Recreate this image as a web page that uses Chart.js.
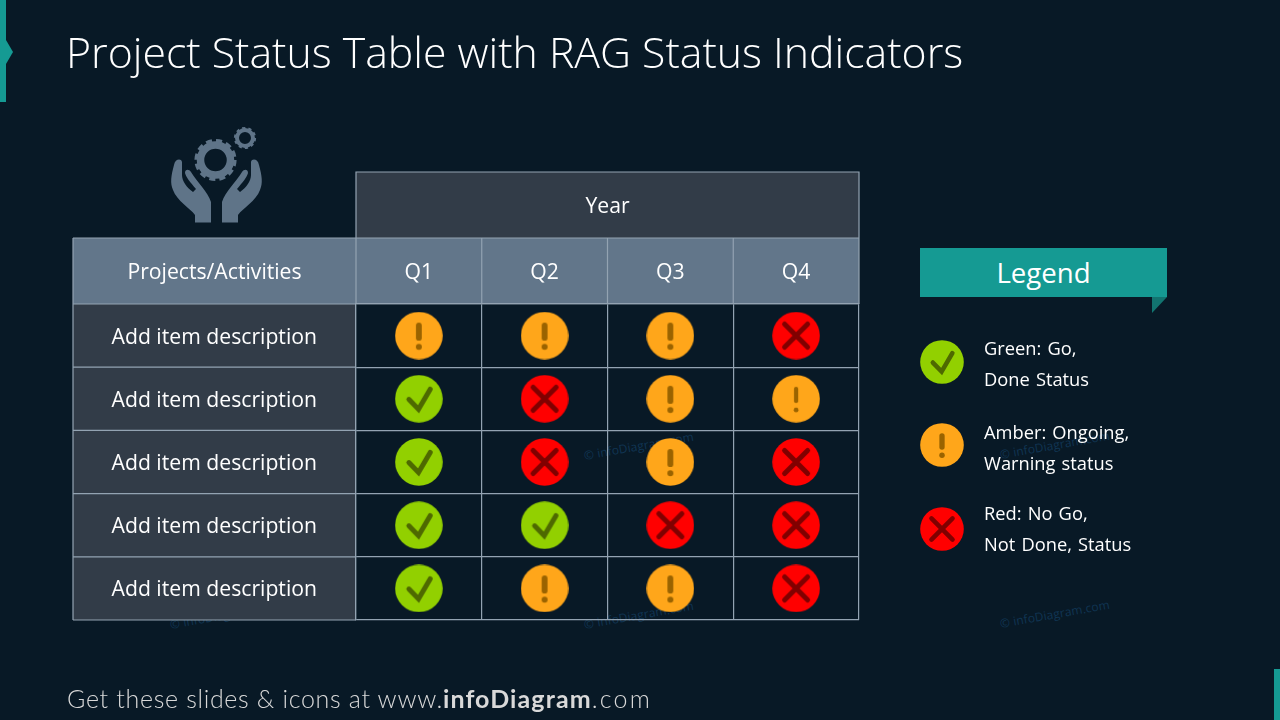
<!DOCTYPE html>
<html>
<head>
<meta charset="utf-8">
<title>Project Status Table</title>
<script src="https://cdn.jsdelivr.net/npm/chart.js@4"></script>
<style>
    html, body { margin: 0; padding: 0; background: #081926; }
    #slide { position: relative; width: 1280px; height: 720px; overflow: hidden; background: #081926; font-family: 'Open Sans', sans-serif; color: #fff; }
    #slide > * { position: absolute; }
    #myChart { left: 0; top: 0; z-index: 1; }
    .txt { z-index: 2; white-space: nowrap; }
    .wm { z-index: 0; font-size: 12px; letter-spacing: 0.1px; color: #103553; transform: rotate(-10deg); transform-origin: left center; white-space: nowrap; }
    .lg { font-size: 18.3px; word-spacing: 1.4px; line-height: 30.5px; left: 984px; }
</style>
</head>
<body>
<div id="slide">
    <div style="left:0;top:0;width:6px;height:102px;background:#159a93"></div>
    <svg style="left:0;top:0" width="20" height="102"><path d="M6 40 L13 52 L6 64 Z" fill="#159a93"/></svg>
    <div style="left:1274px;top:669px;width:6px;height:51px;background:#159a93"></div>

    <div class="txt" id="title" style="left:66px;top:24px;font-size:42.8px;font-weight:300;line-height:56px">Project Status Table with RAG Status Indicators</div>

    <svg style="left:0;top:0;z-index:2" width="300" height="240">
        <g fill="none" stroke="#5f7488">
            <circle cx="215.5" cy="160" r="15" stroke-width="7.5"/>
            <circle cx="215.5" cy="160" r="19.3" stroke-width="3.6" stroke-dasharray="6 4.1"/>
            <circle cx="245" cy="138" r="8" stroke-width="4"/>
            <circle cx="245" cy="138" r="10" stroke-width="2.2" stroke-dasharray="3.2 3.08"/>
        </g>
        <g fill="#5f7488">
            <path id="hand" d="M195 222.5 L195 215 C190 208 177 201 173 190 C170 183 171 176 174 165 C175 159 181 158 182 162 L182 175 C182 181 187 188 193 192 L196 189 C190 182 186 177 185 173 C185 169 189 169 191 172 C197 182 208 192 211 202 L211 222.5 Z"/>
            <use href="#hand" transform="translate(433 0) scale(-1 1)"/>
        </g>
    </svg>

    <canvas id="myChart" width="1280" height="720"></canvas>

    <div style="left:920px;top:248px;width:247px;height:49px;background:#159a93;z-index:2"></div>
    <svg style="left:1152px;top:297px;z-index:2" width="15" height="16"><path d="M0 0 L15 0 L0 16 Z" fill="#127470"/></svg>
    <div class="txt" style="left:920px;top:248px;width:247px;height:49px;line-height:48px;text-align:center;font-size:27.6px">Legend</div>

    <div class="txt lg" style="top:333px">Green: Go,<br>Done Status</div>
    <div class="txt lg" style="top:417px">Amber: Ongoing,<br>Warning status</div>
    <div class="txt lg" style="top:498px">Red: No Go,<br>Not Done, Status</div>

    <div class="wm" style="left:584px;top:447px">© infoDiagram.com</div>
    <div class="wm" style="left:584px;top:616px">© infoDiagram.com</div>
    <div class="wm" style="left:1000px;top:446px">© infoDiagram.com</div>
    <div class="wm" style="left:1000px;top:615px">© infoDiagram.com</div>
    <div class="wm" style="left:170px;top:616px">© infoDiagram.com</div>

    <div class="txt" id="foot" style="left:67px;top:682px;font-family:Lato,sans-serif;font-size:25px;font-weight:300;letter-spacing:0.68px;line-height:32px;color:#d9d9d9">Get these slides &amp; icons at www.<b style="font-weight:700;letter-spacing:1.1px">infoDiagram</b><span style="letter-spacing:2.2px">.com</span></div>
</div>
<script>
const quarters = ['Q1', 'Q2', 'Q3', 'Q4']
const rowNames = ['Add item description', 'Add item description', 'Add item description', 'Add item description', 'Add item description']
const q1Status = ['amber', 'green', 'green', 'green', 'green']
const q2Status = ['amber', 'red', 'red', 'green', 'amber']
const q3Status = ['amber', 'amber', 'amber', 'red', 'amber']
const q4Status = ['red', 'amber', 'red', 'red', 'red']
const statusNames = ['green', 'amber', 'red']

const gridColor = '#93a3b2'
const labelFont = { family: 'Open Sans', size: 21.2 }

// status icon, also used in the legend on the right
function makeIcon(status, size, thin) {
    const cv = document.createElement('canvas')
    cv.width = size
    cv.height = size
    const ctx = cv.getContext('2d')
    const fills = { green: '#92d000', amber: '#ffa61a', red: '#ff0000' }
    const marks = { green: '#4e6900', amber: '#9a6300', red: '#800000' }
    ctx.translate(size / 2, size / 2)
    ctx.scale(size / 48, size / 48)
    ctx.fillStyle = fills[status]
    ctx.beginPath()
    ctx.arc(0, 0, 23.8, 0, Math.PI * 2)
    ctx.fill()
    ctx.strokeStyle = marks[status]
    ctx.fillStyle = marks[status]
    ctx.lineCap = 'round'
    if (status === 'green') {
        ctx.lineWidth = 5
        ctx.lineJoin = 'miter'
        ctx.beginPath()
        ctx.moveTo(-10, 0.6)
        ctx.lineTo(-0.4, 10.4)
        ctx.lineTo(11.3, -9.6)
        ctx.stroke()
    } else if (status === 'red') {
        ctx.lineWidth = 5
        ctx.beginPath()
        ctx.moveTo(-11.5, -11.5)
        ctx.lineTo(11.5, 11.5)
        ctx.moveTo(11.5, -11.5)
        ctx.lineTo(-11.5, 11.5)
        ctx.stroke()
    } else {
        ctx.lineWidth = thin ? 4.2 : 5.8
        ctx.beginPath()
        ctx.moveTo(0, -10)
        ctx.lineTo(0, 2.2)
        ctx.stroke()
        ctx.beginPath()
        ctx.arc(0, 11.2, thin ? 2.4 : 3, 0, Math.PI * 2)
        ctx.fill()
    }
    return cv
}

// collect the cells per status, x and y are column and row index
const columns = [q1Status, q2Status, q3Status, q4Status]
const thinAmber = makeIcon('amber', 48, true)
const datasets = statusNames.map(function (name) {
    const pts = []
    columns.forEach(function (col, c) {
        col.forEach(function (s, r) {
            if (s === name) pts.push({ x: c, y: r })
        })
    })
    const icon = makeIcon(name, 48)
    return {
        label: name,
        data: pts,
        parsing: false,
        // the Q4 amber in the second row has a slimmer mark in the source
        pointStyle: function (ctx) {
            const p = ctx.raw
            return p && name === 'amber' && p.x === 3 && p.y === 1 ? thinAmber : icon
        },
        pointRadius: 24,
        pointHoverRadius: 24
    }
})

// header bands behind the table and the lines running on over them
const tableBands = {
    id: 'tableBands',
    beforeDraw: function (chart) {
        const ctx = chart.ctx
        const a = chart.chartArea
        const x = chart.scales.x
        const y = chart.scales.y
        ctx.save()
        ctx.fillStyle = '#323c48'
        ctx.fillRect(a.left, x.top, a.width, a.top - x.top)
        ctx.fillRect(y.left, a.top, y.width, a.height)
        ctx.fillStyle = '#62768a'
        ctx.fillRect(y.left, 238, a.right - y.left, a.top - 238)
        ctx.restore()
    },
    afterDraw: function (chart) {
        const ctx = chart.ctx
        const a = chart.chartArea
        const x = chart.scales.x
        const y = chart.scales.y
        ctx.save()
        ctx.strokeStyle = gridColor
        ctx.lineWidth = 1.2
        ctx.beginPath()
        // year box
        ctx.rect(a.left, x.top, a.width, 238 - x.top)
        // left edge and header row
        ctx.moveTo(y.left, 238)
        ctx.lineTo(y.left, a.bottom)
        ctx.moveTo(y.left, 238)
        ctx.lineTo(a.right, 238)
        for (let c = 0; c <= quarters.length; c++) {
            const px = x.getPixelForValue(c - 0.5)
            ctx.moveTo(px, 238)
            ctx.lineTo(px, a.top)
        }
        for (let r = 0; r <= rowNames.length; r++) {
            const py = y.getPixelForValue(r - 0.5)
            ctx.moveTo(y.left, py)
            ctx.lineTo(a.left, py)
        }
        ctx.stroke()
        ctx.fillStyle = '#ffffff'
        ctx.font = "21.2px 'Open Sans'"
        ctx.textAlign = 'center'
        ctx.textBaseline = 'middle'
        ctx.fillText('Projects/Activities', (y.left + a.left) / 2, 272.5)
        ctx.restore()
    }
}

const config = {
    type: 'scatter',
    data: { datasets: datasets },
    plugins: [tableBands],
    options: {
        responsive: false,
        animation: false,
        layout: { padding: { left: 73, top: 172, right: 421, bottom: 100 } },
        plugins: {
            legend: { display: false },
            tooltip: { enabled: false }
        },
        scales: {
            x: {
                type: 'category',
                position: 'top',
                labels: quarters,
                offset: true,
                afterFit: function (scale) { scale.height = 132 },
                grid: { offset: true, color: gridColor, lineWidth: 1.2, drawTicks: false },
                border: { color: gridColor, width: 1.2 },
                title: {
                    display: true,
                    text: 'Year',
                    color: '#ffffff',
                    font: labelFont,
                    padding: { top: 22, bottom: 0 }
                },
                ticks: {
                    color: '#ffffff',
                    font: labelFont,
                    padding: 18,
                    maxRotation: 0,
                    autoSkip: false
                }
            },
            y: {
                type: 'category',
                position: 'left',
                labels: rowNames,
                offset: true,
                afterFit: function (scale) { scale.width = 283 },
                grid: { offset: true, color: gridColor, lineWidth: 1.2, drawTicks: false },
                border: { color: gridColor, width: 1.2 },
                ticks: {
                    color: '#ffffff',
                    font: labelFont,
                    crossAlign: 'center',
                    padding: 39,
                    labelOffset: 2,
                    autoSkip: false
                }
            }
        }
    }
}

const myChart = new Chart(document.getElementById('myChart'), config)

// legend icons
const slide = document.getElementById('slide')
const legendRows = [['green', 340], ['amber', 423], ['red', 507]]
legendRows.forEach(function (row) {
    const icon = makeIcon(row[0], 44)
    icon.style.left = '920px'
    icon.style.top = row[1] + 'px'
    icon.style.zIndex = 2
    slide.appendChild(icon)
})
</script>
</body>
</html>
